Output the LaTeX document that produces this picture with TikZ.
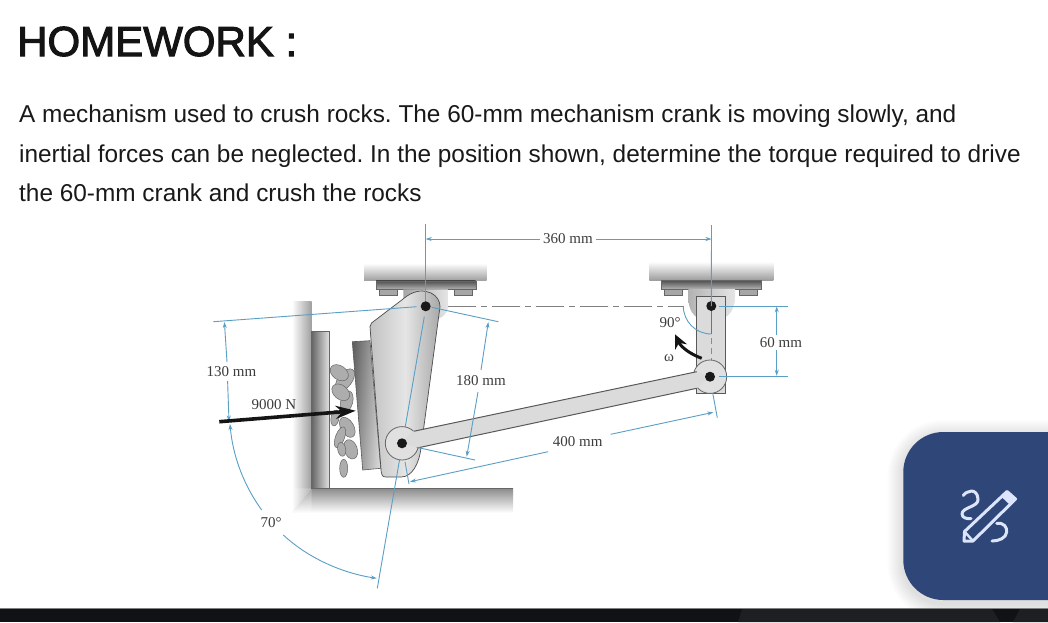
\documentclass[tikz,border=0pt]{standalone}
\usepackage{fontspec}
\setmainfont{Liberation Sans}
\newfontfamily\dimfont{Liberation Serif}
\newfontfamily\titlefont[FakeBold=2.5]{Liberation Sans}
\usetikzlibrary{arrows.meta}
\definecolor{dimblue}{HTML}{5A9FC4}
\definecolor{badge}{HTML}{2F4679}
\definecolor{iconc}{HTML}{DCE5FB}
\definecolor{barc}{HTML}{101216}
\definecolor{barlight}{HTML}{1E1F23}
\definecolor{labelc}{HTML}{3C3C3C}
\tikzset{
  dimline/.style={draw=dimblue,line width=0.9pt},
  dimarrow/.style={dimline,-{Stealth[length=6pt,width=4pt]}},
  dimlabel/.style={font=\dimfont\fontsize{15}{16}\selectfont,text=labelc,inner sep=0pt},
  para/.style={anchor=base west,inner sep=0pt,font=\frenchspacing\fontsize{24.38}{28}\selectfont,text=black!90},
  rock/.style={draw=black!60,line width=0.5pt,fill=black!32},
  bolt/.style={draw=black!60,line width=0.4pt,fill=black!35},
  pin/.style={fill=black!90,draw=none},
  ring/.style={draw=black!60,line width=0.8pt,fill=black!12},
  metal/.style={draw=black!65,line width=0.7pt},
  iconline/.style={draw=iconc,line width=3pt,line cap=round,line join=round}
}
\begin{document}
\begin{tikzpicture}[x=1pt,y=-1pt]
\useasboundingbox (0,0) rectangle (1048,622);
\fill[white] (0,0) rectangle (1048,622);

% text
\node[anchor=base west,inner sep=0pt,font=\titlefont\fontsize{42}{44}\selectfont,text=black!92] (title) at (17,56) {HOMEWORK :};
\node[para] (line1) at (19,122) {A mechanism used to crush rocks. The 60-mm mechanism crank is moving slowly, and};
\node[para] (line2) at (19,162) {inertial forces can be neglected. In the position shown, determine the torque required to drive};
\node[para] (line3) at (19,201) {the 60-mm crank and crush the rocks};

% named points
\coordinate (pivotL) at (425.7,306.3);
\coordinate (pinL) at (402,443.3);
\coordinate (pivotR) at (711.3,306);
\coordinate (pinR) at (710,376.7);

% wall and floor
\shade[left color=white,right color=black!38] (291.7,301.7) rectangle (311.7,488.3);
\shade[top color=black!45,bottom color=white] (311.7,488.3) rectangle (513,513);
\shade[left color=white,right color=black!30] (291.7,488.3) -- (311.7,488.3) -- (291.7,513) -- cycle;
\shade[top color=black!35,bottom color=white] (311.7,488.3) -- (311.7,513) -- (291.7,513) -- cycle;
\draw[black!60,line width=0.5pt] (311.7,331.7) -- (311.7,488.3) -- (513,488.3);
\shade[left color=black!60,right color=black!12,draw=black!60,line width=0.5pt] (311.7,331.7) rectangle (329,488.3);

% rocks
\foreach \x/\y/\a/\b/\r in {345/380/7/13/37,346.7/401.7/6/11/15,335/418/4/8/10,339.3/372.7/10/7/35,340.7/392.3/10/7/40,347.3/427.3/11/6.5/60,340/437.3/11/4.5/-70,350.7/449.3/10/6.5/70,341.7/449.3/7/4/80,343.7/468.3/9/4/90}{
  \draw[rock,rotate around={-\r:(\x,\y)}] (\x,\y) ellipse [x radius=\a,y radius=\b];
}

% crushing plate
\shade[left color=black!62,right color=black!15,draw=black!65,line width=0.6pt,shading angle=85]
  (352.3,341.7) -- (370,340.7) -- (380.7,468.3) -- (362.7,470) -- cycle;

% left support
\shade[top color=white,bottom color=black!38] (364,263.3) rectangle (486.7,280.7);
\shade[top color=black!70,bottom color=black!30,draw=black!60,line width=0.4pt] (376,280.7) rectangle (475.7,289.3);
\draw[bolt] (379,289.3) rectangle (396.7,294.7);
\draw[bolt] (454.3,289.3) rectangle (472.3,294.7);
\shade[left color=black!35,right color=black!10] (403.3,289.3) -- (448.3,289.3) -- (448.3,304) .. controls (448.3,311) and (445,316) .. (440,318) -- (403.3,318) -- cycle;

% rocker
\shade[left color=black!24,right color=black!34,middle color=black!10,draw=black!70,line width=0.7pt]
  (370,326.7) -- (371.5,323) -- (407,296)
  .. controls (416,290) and (424,290) .. (431,293)
  .. controls (437,296) and (440,301) .. (440,306.7) -- (421,448)
  .. controls (419,464) and (412,477) .. (401,477) -- (386,477)
  .. controls (382.5,477) and (381.5,475) .. (381.2,472) -- cycle;

% left extension lines over rocker
\draw[dimline] (425.7,224) -- (pivotL);
\draw[dimline] (213.3,321.7) -- (416.7,306.7);
\draw[dimline] (424.3,316.7) -- (377.3,588.3);
\draw[dimline] (431.7,307.3) -- (498.3,321.7);

% right support
\shade[top color=white,bottom color=black!38] (649.3,261.7) rectangle (773.3,280);
\shade[top color=black!70,bottom color=black!30,draw=black!60,line width=0.4pt] (661,280) rectangle (760.7,289);
\draw[bolt] (664.3,289) rectangle (682.3,295);
\draw[bolt] (739.3,289) rectangle (757.3,295);
\shade[left color=black!30,right color=black!10] (688.3,289) -- (735,289) -- (735,298) .. controls (735,309) and (728,318) .. (722,318) -- (700,318) .. controls (694,318) and (688.3,309) .. (688.3,298) -- cycle;

% centre line
\draw[black!50,line width=0.8pt,dash pattern=on 28pt off 5pt on 6pt off 5pt] (448,306) -- (683,306);

% crank
\draw[metal,fill=black!14] (696.7,296.7) rectangle (725,393.3);
\draw[black!55,line width=0.8pt] (pivotR) -- (711.3,334);
\draw[black!45,line width=0.8pt,dash pattern=on 6pt off 4pt] (711.3,338) -- (711.3,362);

% rings and link
\draw[ring] (pinL) circle (16.7);
\draw[ring] (pinR) circle (16.7);
\path[fill=black!14] (402,443.3) -- (411.7,431.7) -- (696.7,371.7) -- (710,376.7) -- (696.7,388.3) -- (418,447.8) -- cycle;
\draw[metal,line width=1pt] (414,431.2) -- (696.7,371.7);
\draw[metal,line width=1pt] (418,447.8) -- (696.7,388.3);
\path[pin] (pivotL) circle (5);
\path[pin] (pinL) circle (5);
\path[pin] (pivotR) circle (5);
\path[pin] (pinR) circle (5);

% remaining dimension lines
\node[dimlabel] (d360) at (568,238.5) {360 mm};
\coordinate (d360a) at (425.7,239);
\coordinate (d360b) at (711.5,239);
\draw[dimarrow] (d360.west) ++(-3,0.5) -- (d360a);
\draw[dimarrow] (d360.east) ++(3,0.5) -- (d360b);
\draw[dimline] (711.5,225) -- (pivotR);

\draw[dimline] (719,306) -- (788,306);
\draw[dimline] (719,376.2) -- (788,376.2);
\node[dimlabel] (d60) at (781,342.5) {60 mm};
\draw[dimarrow] (776.7,335) -- (776.7,306.4);
\draw[dimarrow] (776.7,350) -- (776.7,375.8);

\node[dimlabel] (d130) at (231.5,371.5) {130 mm};
\draw[dimarrow] (227,362) -- (224.4,322);
\draw[dimarrow] (227.6,381) -- (229,421.5);

\node[dimlabel] (d9000) at (274,404.5) {9000 N};

\node[dimlabel] (d180) at (481,381) {180 mm};
\draw[dimline] (416.7,447.3) -- (475,460);
\draw[dimarrow] (481,370) -- (488.3,322);
\draw[dimarrow] (478,392) -- (466.7,456.7);

\node[dimlabel] (d400) at (577.7,441.5) {400 mm};
\draw[dimline] (405,461.7) -- (409,484);
\draw[dimline] (712.7,393) -- (717.3,417.7);
\draw[dimarrow] (548,451.7) -- (410,481.7);
\draw[dimarrow] (610.7,434.3) -- (713.3,412.3);

\node[dimlabel] (d70) at (271,522.7) {70°};
\draw[dimarrow] (261.7,510) .. controls (245,487) and (233,458) .. (230,424);
\draw[dimarrow] (283.3,535) .. controls (308,558) and (342,573) .. (376.7,578.3);

\node[dimlabel] (d90) at (670,322.7) {90°};
\draw[dimline] (683.3,306) .. controls (683.3,321.5) and (695.8,334) .. (711.3,334);
\node[dimlabel] (omega) at (669,358.3) {ω};

% thick arrows
\draw[black!92,line width=3.6pt,-{Stealth[length=20pt,width=13pt]}] (219.3,421.7) -- (355.7,410.7);
\draw[black!92,line width=3pt,-{Stealth[length=14pt,width=13pt]}] (701.7,358.3) .. controls (690,354) and (681,347) .. (675,334.3);

% badge shadow
\foreach \i in {1,...,16}{
  \pgfmathsetmacro{\rr}{40+\i}
  \fill[black,opacity=0.008,rounded corners=\rr pt] (903.3-\i,432-\i+4) rectangle (1100,600+\i+4);
}

% bottom bar
\fill[barc] (0,608) rectangle (1048,622);
\fill[barlight] (738,622) -- (742,609) -- (992,609) -- (1000,622) -- cycle;
\fill[barlight] (1020,609) -- (1048,609) -- (1048,622) -- (1013,622) -- cycle;
\draw[black!50,line width=0.8pt] (0,608) -- (1048,608);

% badge
\fill[badge,rounded corners=40pt] (903.3,432) rectangle (1100,600);

% icon
\path[draw=iconc,line width=3pt,line join=round,fill=badge] (964,541) -- (964.5,531.5) -- (1007,491.5) -- (1015.5,499) -- (973,541) -- cycle;
\path[fill=iconc,draw=iconc,line width=2pt,line join=round] (1002,496) -- (1007,491.5) -- (1015.5,499) -- (1010.5,504) -- cycle;
\draw[iconc,line width=2.4pt] (964.5,531.5) -- (973,541);
\draw[iconline] (963.3,495.5) .. controls (966,491) and (977,487) .. (978,499) .. controls (979,507) and (962,507) .. (962,514) .. controls (962,518) and (967,519) .. (971,518.5);
\draw[iconline] (996.7,523.3) .. controls (1004,522.5) and (1007,527) .. (1006.7,532) .. controls (1006,538) and (999,541) .. (992,541);
\end{tikzpicture}
\end{document}
